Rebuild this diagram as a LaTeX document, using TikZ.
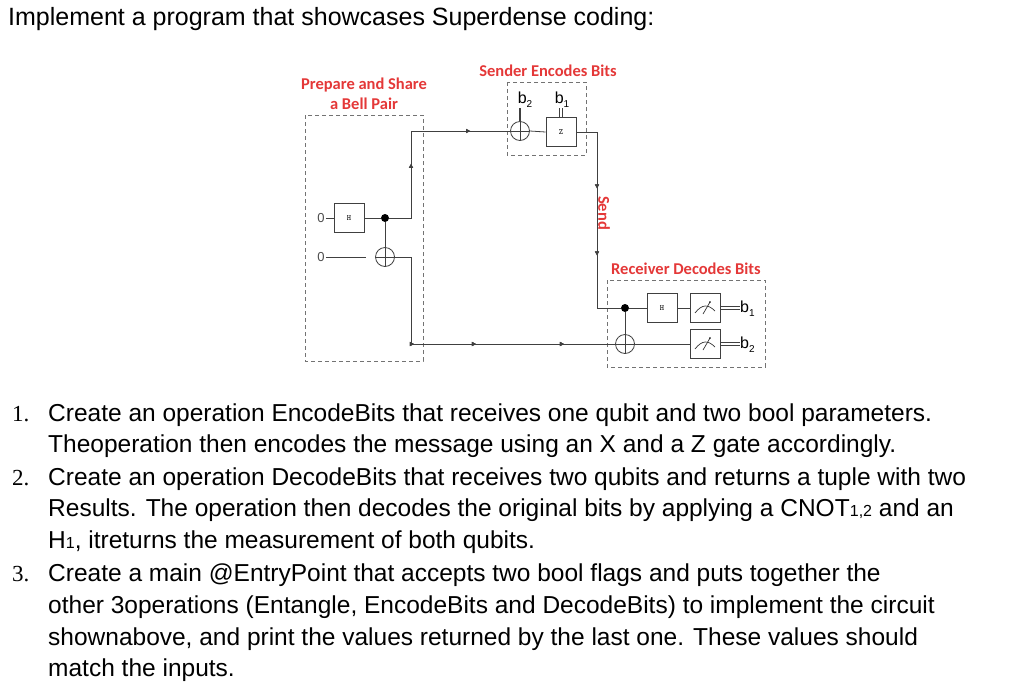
\documentclass[tikz,border=0pt]{standalone}
\usepackage{fontspec}
\setmainfont{Liberation Sans}
\newfontfamily\lblfont{Carlito}
\newfontfamily\numfont{Liberation Serif}
\usetikzlibrary{arrows.meta,decorations.markings}
\definecolor{lblred}{RGB}{228,56,56}
\newcommand{\bsub}[1]{b\raisebox{-0.25em}{\fontsize{10}{10}\selectfont #1}}
\begin{document}
\begin{tikzpicture}[x=1pt,y=-1pt,
  wire/.style={draw=black!75,line width=0.8pt},
  dbl/.style={draw=black!75,line width=0.7pt},
  gate/.style={draw=black!75,line width=0.8pt,minimum width=30pt,minimum height=29pt,inner sep=0pt,font=\ttfamily\fontsize{8}{8}\selectfont},
  ctrl/.style={circle,fill=black,inner sep=0pt,minimum size=8pt},
  targ/.style={circle,draw=black!75,line width=0.8pt,inner sep=0pt,minimum size=19pt,
    append after command={\pgfextra{\draw[black!75,line width=0.8pt] (\tikzlastnode.north)--(\tikzlastnode.south) (\tikzlastnode.west)--(\tikzlastnode.east);}}},
  grp/.style={draw=black!55,dashed,line width=0.9pt,dash pattern=on 4pt off 3pt},
  lbl/.style={font=\lblfont\bfseries\fontsize{16.5}{20}\selectfont,text=lblred,align=center},
  txt/.style={anchor=base west,inner sep=0pt,font=\fontsize{24.5}{30}\selectfont},
  num/.style={anchor=base west,inner sep=0pt,font=\numfont\fontsize{23}{27}\selectfont},
  zero/.style={font=\fontsize{13}{15}\selectfont,text=black!70,inner sep=1pt},
  blbl/.style={font=\fontsize{16}{18}\selectfont,inner sep=0pt},
  tri/.style={decoration={markings,mark=at position #1 with {\arrow{Triangle[length=4pt,width=4pt]}}},postaction=decorate}
]
\useasboundingbox (0,0) rectangle (1024,681);
\node[txt,font=\fontsize{25}{30}\selectfont] (title) at (8,25) {Implement a program that showcases Superdense coding:};

% groups
\draw[grp] (305,115) rectangle (423,361);
\draw[grp] (507,82) rectangle (586,155);
\draw[grp] (607,280) rectangle (765,367);
\node[lbl] (l1) at (364,94) {Prepare and Share\\a Bell Pair};
\node[lbl] (l2) at (548,71) {Sender Encodes Bits};
\node[lbl] (l3) at (686,269) {Receiver Decodes Bits};
\node[lbl,rotate=-90] (l4) at (604,213) {Send};

% bell pair
\node[zero] (z1) at (321,218) {0};
\node[zero] (z2) at (321,257) {0};
\node[gate] (h1) at (349,218) {H};
\node[ctrl] (c1) at (385,218) {};
\node[targ] (t1) at (385,257) {};
\coordinate (t1w) at (366,257);
\draw[wire] (z1) -- (h1) -- (c1);
\draw[wire] (z2) -- (t1w);
\draw[wire] (c1) -- (t1.north);

% sender
\node[targ] (t2) at (520,131) {};
\node[gate] (zg) at (561,132) {Z};
\node[blbl] (b2s) at (525,100) {\bsub{2}};
\node[blbl] (b1s) at (562,100) {\bsub{1}};
\draw[wire,line width=1.8pt] (b2s.south -| t2.north) -- (t2.north);
\draw[dbl] ([xshift=-1.2pt]b1s.south -| zg.north) -- ([xshift=-1.2pt]zg.north);
\draw[dbl] ([xshift=1.2pt]b1s.south -| zg.north) -- ([xshift=1.2pt]zg.north);
\draw[wire] (t2.east) -- (zg.west);

% receiver
\node[ctrl] (c2) at (625,308) {};
\node[targ] (t3) at (625,344) {};
\node[gate] (h2) at (662,308) {H};
\node[gate] (m1) at (705,308) {};
\node[gate] (m2) at (705,344) {};
\foreach \m in {m1,m2}{
  \draw[black!80,line width=0.7pt] ([shift={(-10,5)}]\m.center) .. controls ([shift={(-3,-4)}]\m.center) and ([shift={(3,-4)}]\m.center) .. ([shift={(10,3)}]\m.center);
  \draw[black!80,line width=0.7pt] ([shift={(-2,6)}]\m.center) -- ([shift={(5,-6)}]\m.center);
  \fill ([shift={(5,-6)}]\m.center) circle (0.9pt);
}
\node[blbl,anchor=west] (o1) at (740,309) {\bsub{1}};
\node[blbl,anchor=west] (o2) at (740,345) {\bsub{2}};
\draw[dbl] ([yshift=-1.2pt]m1.east) -- ([yshift=-1.2pt]m1.east -| o1.west);
\draw[dbl] ([yshift=1.2pt]m1.east) -- ([yshift=1.2pt]m1.east -| o1.west);
\draw[dbl] ([yshift=-1.2pt]m2.east) -- ([yshift=-1.2pt]m2.east -| o2.west);
\draw[dbl] ([yshift=1.2pt]m2.east) -- ([yshift=1.2pt]m2.east -| o2.west);
\draw[wire] (c2) -- (h2) -- (m1);
\draw[wire] (c2) -- (t3.north);
\draw[wire] (t3.east) -- (m2);

% connecting wires
\draw[wire,tri=76pt,tri=168pt] (c1) -- (411,218) -- (411,131) -- (t2.west);
\draw[wire,tri=106pt,tri=168pt,tri=256pt] (t1.east) -- (411,257) -- (411,344) -- (t3.west);
\draw[wire,tri=77pt,tri=144pt] (zg.east) -- (597,132) -- (597,308) -- (c2);

% list
\node[num] (n1) at (12,421) {1.};
\node[num] (n2) at (12,485) {2.};
\node[num] (n3) at (12,581) {3.};
\node[txt] (a1) at (48,421) {Create an operation EncodeBits that receives one qubit and two bool parameters.};
\node[txt] (a2) at (48,452) {Theoperation then encodes the message using an X and a Z gate accordingly.};
\node[txt] (b1) at (48,485) {Create an operation DecodeBits that receives two qubits and returns a tuple with two};
\node[txt] (b2l) at (48,516) {Results. The operation then decodes the original bits by applying a CNOT{\fontsize{16}{16}\selectfont 1,2} and an};
\node[txt] (b3) at (48,548) {H{\fontsize{16}{16}\selectfont 1}, itreturns the measurement of both qubits.};
\node[txt] (d1) at (48,581) {Create a main @EntryPoint that accepts two bool flags and puts together the};
\node[txt] (d2) at (48,613) {other 3operations (Entangle, EncodeBits and DecodeBits) to implement the circuit};
\node[txt] (d3) at (48,645) {shownabove, and print the values returned by the last one. These values should};
\node[txt] (d4) at (48,676) {match the inputs.};
\end{tikzpicture}
\end{document}
